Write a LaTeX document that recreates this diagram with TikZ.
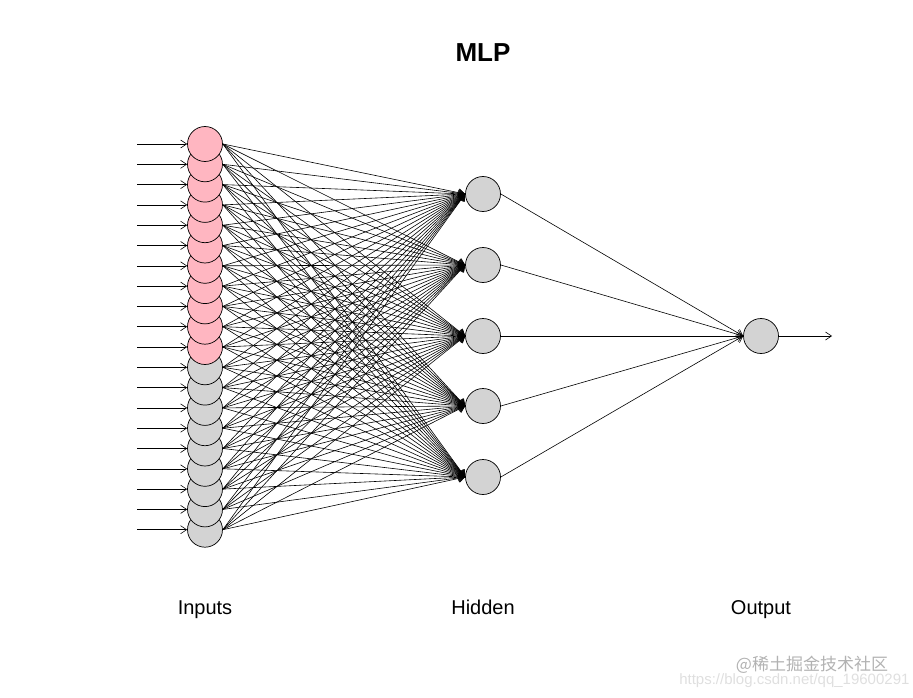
\documentclass[tikz,border=0pt]{standalone}
\usepackage{fontspec}
\setmainfont{Liberation Sans}
\newfontfamily\cjk{Noto Sans CJK SC}
\usetikzlibrary{arrows.meta}
\definecolor{pk}{RGB}{255,182,193}
\definecolor{gr}{RGB}{211,211,211}
\begin{document}
\begin{tikzpicture}[x=1pt,y=-1pt,
 neu/.style={circle,draw=black,line width=0.7pt,minimum size=35pt,inner sep=0pt},
 con/.style={line width=0.6pt,-{Straight Barb[length=6pt,width=8pt]}},
 lab/.style={font=\fontsize{20}{20}\selectfont,anchor=base}]
\useasboundingbox (0,0) rectangle (913,698);
\node[font=\bfseries\fontsize{26}{26}\selectfont] (t) at (483,53) {MLP};
\foreach \i in {20,19,...,1}{
  \pgfmathsetmacro\yy{144+(\i-1)*20.3}
  \ifnum\i<12 \def\fc{pk}\else\def\fc{gr}\fi
  \coordinate (s\i) at (137,\yy);
  \node[neu,fill=\fc] (i\i) at (205,\yy) {};
}
\foreach \j/\yy in {1/194,2/265,3/336,4/406,5/477}{
  \node[neu,fill=gr] (h\j) at (483,\yy) {};
}
\node[neu,fill=gr] (o) at (761,336) {};
\coordinate (oe) at (832,336);
\foreach \i in {1,...,20}{
  \draw[con] (s\i) -- (i\i.west);
  \foreach \j in {1,...,5}{\draw[con] (i\i.east) -- (h\j.west);}
}
\foreach \j in {1,...,5}{\draw[con] (h\j.east) -- (o.west);}
\draw[con] (o.east) -- (oe);
\node[lab] (li) at (205,614) {Inputs};
\node[lab] (lh) at (483,614) {Hidden};
\node[lab] (lo) at (761,614) {Output};
\node[text=gray!60,font=\cjk\fontsize{17}{17}\selectfont] (w1) at (812,665) {@稀土掘金技术社区};
\node[text=gray!25,font=\fontsize{15}{15}\selectfont,anchor=east] (w2) at (913,681) {https://blog.csdn.net/qq\_19600291};
\end{tikzpicture}
\end{document}
